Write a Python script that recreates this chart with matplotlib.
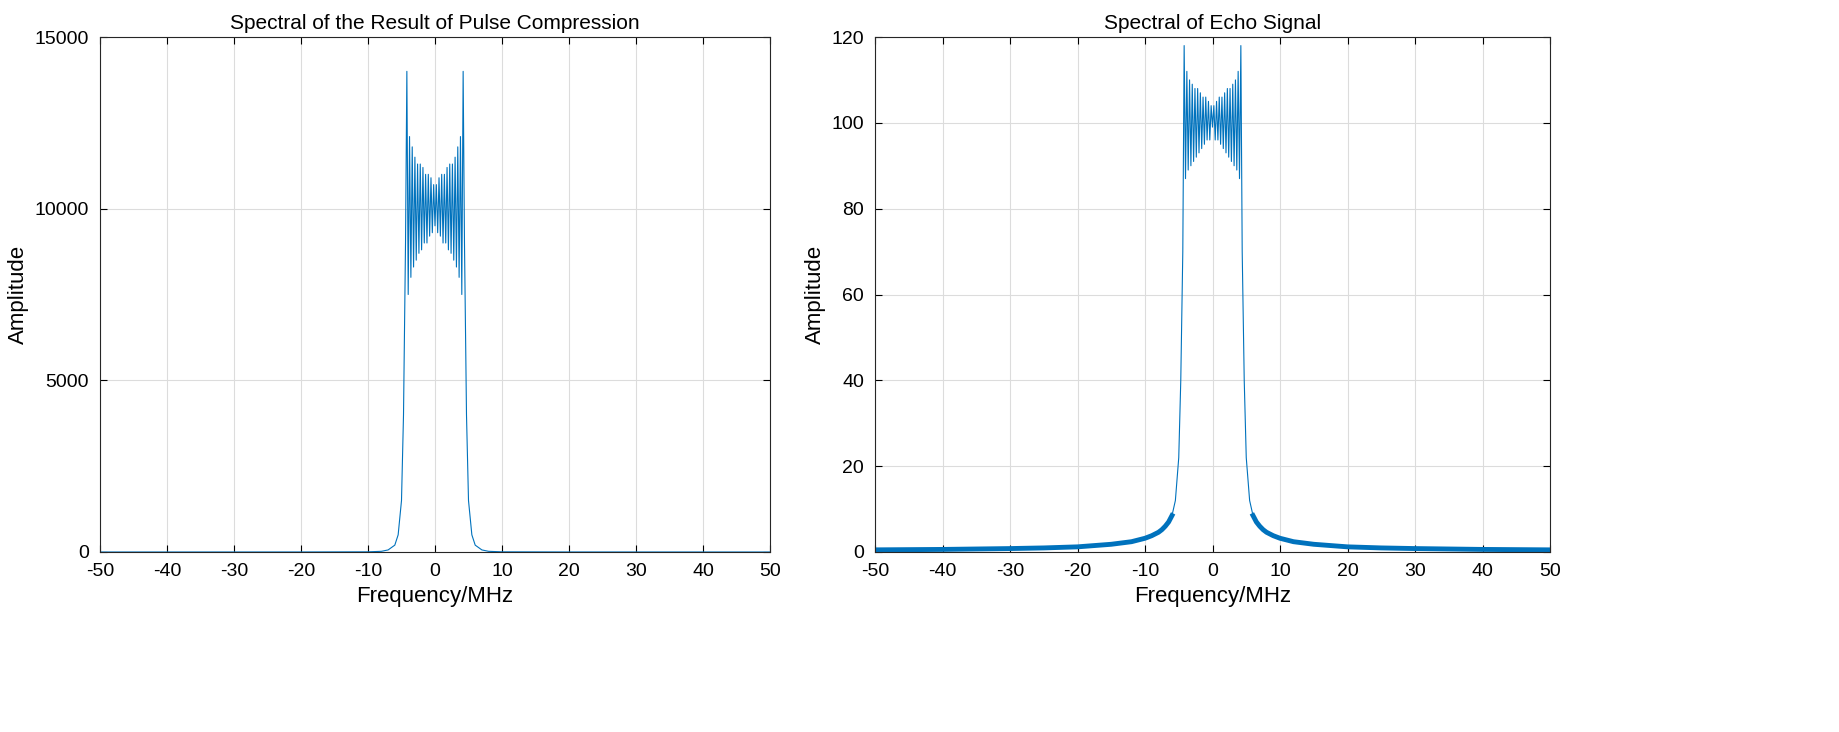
import numpy as np
import matplotlib.pyplot as plt
plt.rcParams['font.family'] = ['Liberation Sans', 'DejaVu Sans']
plt.rcParams['axes.unicode_minus'] = False

# ---------- values (positive half, mirrored) ----------
# pulse compression spectrum
pc_f = [0.0, 0.2, 0.4, 0.6, 0.8, 1.0, 1.2, 1.4, 1.6, 1.8, 2.0, 2.2, 2.4, 2.6, 2.8,
        3.0, 3.2, 3.4, 3.6, 3.8, 4.0, 4.2, 4.4, 4.7, 5.0, 5.5, 6.0, 7.0, 8.0, 10.0, 20.0, 50.0]
pc_a = [9500, 10700, 9300, 10900, 9200, 11000, 9000, 11000, 9000, 11200, 8800, 11300,
        8700, 11300, 8500, 11500, 8300, 11800, 8000, 12100, 7500, 14000, 9000, 4000,
        1500, 500, 200, 60, 20, 5, 1, 0]

# echo spectrum
ec_f = [0.0, 0.2, 0.4, 0.6, 0.8, 1.0, 1.2, 1.4, 1.6, 1.8, 2.0, 2.2, 2.4, 2.6, 2.8,
        3.0, 3.2, 3.4, 3.6, 3.8, 4.0, 4.2, 4.4, 4.7, 5.0, 5.5, 6.0, 6.5, 7.0, 7.5, 8.0,
        9.0, 10.0, 12.0, 15.0, 20.0, 25.0, 30.0, 40.0, 50.0]
ec_a = [99, 104, 96, 105, 96, 106, 95, 106, 94, 107, 93, 108, 92, 108, 91, 109,
        90, 110, 89, 112, 87, 118, 70, 40, 22, 12, 8.5, 7.0, 6.0, 5.2, 4.6,
        3.8, 3.2, 2.4, 1.8, 1.2, 0.95, 0.8, 0.6, 0.5]

def mirror(f, a):
    f = np.array(f); a = np.array(a)
    return np.concatenate([-f[::-1], f[1:]]), np.concatenate([a[::-1], a[1:]])

pcx, pcy = mirror(pc_f, pc_a)
ecx, ecy = mirror(ec_f, ec_a)

blue = '#0072BD'
fig = plt.figure(figsize=(18.4, 7.32), dpi=100)
ax1 = fig.add_axes([100/1840, 180/732, 670/1840, 515/732])
ax2 = fig.add_axes([875/1840, 180/732, 675/1840, 515/732])

ax1.plot(pcx, pcy, color=blue, linewidth=0.8)
ax1.set_ylim(0, 15000)
ax1.set_yticks([0, 5000, 10000, 15000])
ax1.set_title('Spectral of the Result of Pulse Compression', fontsize=15)

ax2.plot(ecx, ecy, color=blue, linewidth=0.8)
# thick band of the fast ripple in the tails
left = ecx < -5.5
right = ecx > 5.5
ax2.plot(ecx[left], ecy[left], color=blue, linewidth=3.5)
ax2.plot(ecx[right], ecy[right], color=blue, linewidth=3.5)
ax2.set_ylim(0, 120)
ax2.set_yticks(range(0, 121, 20))
ax2.set_title('Spectral of Echo Signal', fontsize=15)

for ax in (ax1, ax2):
    ax.set_xlim(-50, 50)
    ax.set_xticks(range(-50, 51, 10))
    ax.set_xlabel('Frequency/MHz', fontsize=16)
    ax.set_ylabel('Amplitude', fontsize=16)
    ax.grid(True, color='#dcdcdc', linewidth=0.8)
    ax.tick_params(direction='in', labelsize=14, top=True, right=True, length=5, pad=8)
    for s in ax.spines.values():
        s.set_color('#262626')
        s.set_linewidth(0.8)

plt.savefig('out.png', dpi=100)
